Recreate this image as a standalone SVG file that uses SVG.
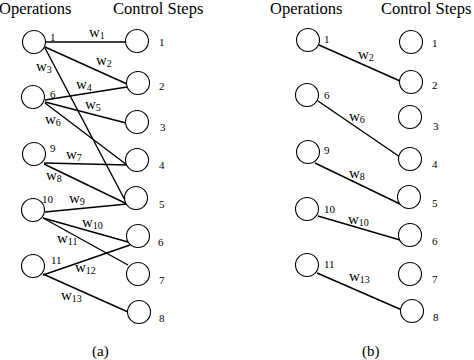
<svg xmlns="http://www.w3.org/2000/svg" width="474" height="360" viewBox="0 0 474 360">
<style>
text{font-family:"Liberation Serif","Tinos","DejaVu Serif",serif;fill:#000}
.h{font-size:16.5px}
.n{font-size:11px}
.w{font-size:15px}
.s{font-size:10px}
.c{font-size:15px}
circle{fill:#fff;stroke:#000;stroke-width:1.1}
line{stroke:#000;stroke-width:1.4}
</style>
<rect width="474" height="360" fill="#fff"/>
<g id="headers">
<text class="h" x="-1" y="14">Operations</text>
<text class="h" x="113" y="14">Control Steps</text>
<text class="h" x="270" y="14">Operations</text>
<text class="h" x="381" y="14">Control Steps</text>
</g>
<g id="connectors">
<line x1="46" y1="42" x2="126" y2="42"/>
<line x1="45" y1="47" x2="127" y2="84"/>
<line x1="45" y1="48" x2="127" y2="204"/>
<line x1="45" y1="100" x2="127" y2="87"/>
<line x1="45" y1="102" x2="126" y2="123"/>
<line x1="45" y1="103" x2="127" y2="165"/>
<line x1="44" y1="163" x2="128" y2="165"/>
<line x1="44" y1="164" x2="127" y2="204"/>
<line x1="45" y1="212" x2="127" y2="204"/>
<line x1="43" y1="218" x2="128" y2="242"/>
<line x1="43" y1="218" x2="128" y2="265"/>
<line x1="43" y1="275" x2="130" y2="245"/>
<line x1="43" y1="274" x2="128" y2="312"/>
<line x1="319" y1="45" x2="400" y2="81"/>
<line x1="318" y1="101" x2="400" y2="157"/>
<line x1="315" y1="163" x2="400" y2="204"/>
<line x1="318" y1="216" x2="400" y2="240"/>
<line x1="317" y1="273" x2="402" y2="310"/>
</g>
<g id="ops-a">
<g id="a-op1"><circle cx="34" cy="42" r="11.5"/><text class="n" x="50" y="41">1</text></g>
<g id="a-op6"><circle cx="33" cy="97" r="11.5"/><text class="n" x="50" y="98">6</text></g>
<g id="a-op9"><circle cx="34" cy="154" r="11.5"/><text class="n" x="50" y="152">9</text></g>
<g id="a-op10"><circle cx="33" cy="210" r="11.5"/><text class="n" x="42" y="203">10</text></g>
<g id="a-op11"><circle cx="33" cy="266" r="11.5"/><text class="n" x="51" y="264">11</text></g>
</g>
<g id="steps-a">
<g id="a-s1"><circle cx="137" cy="41" r="11.5"/><text class="n" x="159" y="46">1</text></g>
<g id="a-s2"><circle cx="138" cy="83" r="11.5"/><text class="n" x="159" y="90">2</text></g>
<g id="a-s3"><circle cx="137" cy="122" r="11.5"/><text class="n" x="160" y="131">3</text></g>
<g id="a-s4"><circle cx="137" cy="160" r="11.5"/><text class="n" x="159" y="169">4</text></g>
<g id="a-s5"><circle cx="136" cy="198" r="11.5"/><text class="n" x="159" y="208">5</text></g>
<g id="a-s6"><circle cx="138" cy="236" r="11.5"/><text class="n" x="158" y="246">6</text></g>
<g id="a-s7"><circle cx="138" cy="274" r="11.5"/><text class="n" x="159" y="284">7</text></g>
<g id="a-s8"><circle cx="139" cy="312" r="11.5"/><text class="n" x="159" y="322">8</text></g>
</g>
<g id="labels-a">
<text class="w" x="89" y="37">w<tspan class="s" dy="2">1</tspan></text>
<text class="w" x="96" y="65">w<tspan class="s" dy="2">2</tspan></text>
<text class="w" x="36" y="71">w<tspan class="s" dy="2">3</tspan></text>
<text class="w" x="76" y="89">w<tspan class="s" dy="2">4</tspan></text>
<text class="w" x="85" y="109">w<tspan class="s" dy="2">5</tspan></text>
<text class="w" x="45" y="124">w<tspan class="s" dy="2">6</tspan></text>
<text class="w" x="66" y="159">w<tspan class="s" dy="2">7</tspan></text>
<text class="w" x="46" y="180">w<tspan class="s" dy="2">8</tspan></text>
<text class="w" x="69" y="203">w<tspan class="s" dy="2">9</tspan></text>
<text class="w" x="82" y="227">w<tspan class="s" dy="2">10</tspan></text>
<text class="w" x="57" y="243">w<tspan class="s" dy="2">11</tspan></text>
<text class="w" x="75" y="272">w<tspan class="s" dy="2">12</tspan></text>
<text class="w" x="61" y="300">w<tspan class="s" dy="2">13</tspan></text>
</g>
<g id="ops-b">
<g id="b-op1"><circle cx="308" cy="40" r="11.5"/><text class="n" x="324" y="43">1</text></g>
<g id="b-op6"><circle cx="307" cy="95" r="11.5"/><text class="n" x="324" y="99">6</text></g>
<g id="b-op9"><circle cx="308" cy="152" r="11.5"/><text class="n" x="324" y="154">9</text></g>
<g id="b-op10"><circle cx="307" cy="209" r="11.5"/><text class="n" x="324" y="213">10</text></g>
<g id="b-op11"><circle cx="307" cy="265" r="11.5"/><text class="n" x="324" y="268">11</text></g>
</g>
<g id="steps-b">
<g id="b-s1"><circle cx="411" cy="42" r="11.5"/><text class="n" x="432" y="47">1</text></g>
<g id="b-s2"><circle cx="411" cy="82" r="11.5"/><text class="n" x="432" y="89">2</text></g>
<g id="b-s3"><circle cx="410" cy="117" r="11.5"/><text class="n" x="433" y="130">3</text></g>
<g id="b-s4"><circle cx="410" cy="159" r="11.5"/><text class="n" x="432" y="168">4</text></g>
<g id="b-s5"><circle cx="409" cy="197" r="11.5"/><text class="n" x="432" y="207">5</text></g>
<g id="b-s6"><circle cx="410" cy="235" r="11.5"/><text class="n" x="432" y="245">6</text></g>
<g id="b-s7"><circle cx="410" cy="274" r="11.5"/><text class="n" x="432" y="283">7</text></g>
<g id="b-s8"><circle cx="412" cy="311" r="11.5"/><text class="n" x="433" y="321">8</text></g>
</g>
<g id="labels-b">
<text class="w" x="358" y="59">w<tspan class="s" dy="2">2</tspan></text>
<text class="w" x="349" y="121">w<tspan class="s" dy="2">6</tspan></text>
<text class="w" x="349" y="178">w<tspan class="s" dy="2">8</tspan></text>
<text class="w" x="348" y="224">w<tspan class="s" dy="2">10</tspan></text>
<text class="w" x="349" y="281">w<tspan class="s" dy="2">13</tspan></text>
</g>
<g id="captions">
<text class="c" x="92" y="356">(a)</text>
<text class="c" x="362" y="356">(b)</text>
</g>
</svg>
